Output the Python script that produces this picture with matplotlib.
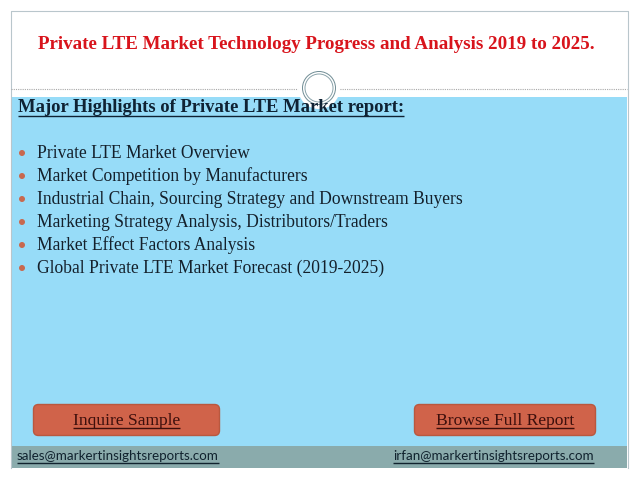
import matplotlib
matplotlib.use("Agg")
import matplotlib.pyplot as plt
from matplotlib.patches import Rectangle, FancyBboxPatch, Circle

title = "Private LTE Market Technology Progress and Analysis 2019 to 2025."
heading = "Major Highlights of Private LTE Market report:"
bullets = [
    "Private LTE Market Overview",
    "Market Competition by Manufacturers",
    "Industrial Chain, Sourcing Strategy and Downstream Buyers",
    "Marketing Strategy Analysis, Distributors/Traders",
    "Market Effect Factors Analysis",
    "Global Private LTE Market Forecast (2019-2025)",
]
bullet_y = [153, 176, 199, 222, 245, 268]
buttons = ["Inquire Sample", "Browse Full Report"]
emails = ["sales@markertinsightsreports.com", "irfan@markertinsightsreports.com"]

fig = plt.figure(figsize=(6.38, 4.78), dpi=100)
ax = fig.add_axes([0, 0, 1, 1])
ax.set_xlim(0, 638)
ax.set_ylim(478, 0)
ax.axis("off")


def underlined(x, y, s, ha="left", gap=7, **kw):
    t = ax.text(x, y, s, ha=ha, va="center", **kw)
    box = t.get_window_extent(fig.canvas.get_renderer())
    ax.plot([box.x0, box.x1], [y + gap, y + gap], color=kw["color"], lw=1.0,
            solid_capstyle="butt", zorder=kw.get("zorder", 3))
    return t


# slide background
ax.add_patch(Rectangle((10.5, 10.5), 617, 87, fc="white", ec="none"))
ax.add_patch(Rectangle((11, 97), 616, 349, fc="#97dcf8", ec="none"))
ax.add_patch(Rectangle((11, 446), 616, 21.5, fc="#8aabac", ec="none"))
ax.plot([10.5, 10.5, 627.5, 627.5], [467.5, 10.5, 10.5, 467.5], color="#b9c6cc", lw=0.8)

# dotted divider and ring
ax.plot([11, 627], [89, 89], color="#a8a8a8", lw=0.8, ls=(0, (1, 1)))
ax.add_patch(Circle((319, 88), 21, fc="white", ec="none", zorder=3))
ax.add_patch(Circle((319, 88), 16.5, fc="white", ec="#6f8c94", lw=0.7, zorder=4))
ax.add_patch(Circle((319, 88), 14, fc="white", ec="#8aa3aa", lw=0.7, zorder=4))

ax.text(316, 44.5, title, ha="center", va="center", color="#d8141c", fontsize=13.7,
        fontweight="bold", family="Liberation Serif")
underlined(18, 107, heading, gap=9, color="#0f2233", fontsize=13.4, fontweight="bold",
           family="Liberation Serif", zorder=5)

for y, s in zip(bullet_y, bullets):
    ax.add_patch(Circle((22, y), 3, fc="#c8694f", ec="none"))
    ax.text(37, y, s, ha="left", va="center", color="#14202b", fontsize=12.65,
            family="Liberation Serif")

# buttons
for (x0, x1), s in zip([(33.5, 219.5), (414.5, 595.5)], buttons):
    ax.add_patch(FancyBboxPatch((x0, 404.5), x1 - x0, 31,
                                boxstyle="round,pad=0,rounding_size=5",
                                fc="#d0634a", ec="#b9583f", lw=1))
    underlined((x0 + x1) / 2, 421, s, ha="center", color="#3d0f0c", fontsize=12.6,
               family="Liberation Serif")

# contact line
underlined(17, 456, emails[0], color="#10222e", fontsize=9.6, family="Lato")
underlined(594, 456, emails[1], ha="right", color="#10222e", fontsize=9.6, family="Lato")

fig.savefig("out.png", dpi=100)
